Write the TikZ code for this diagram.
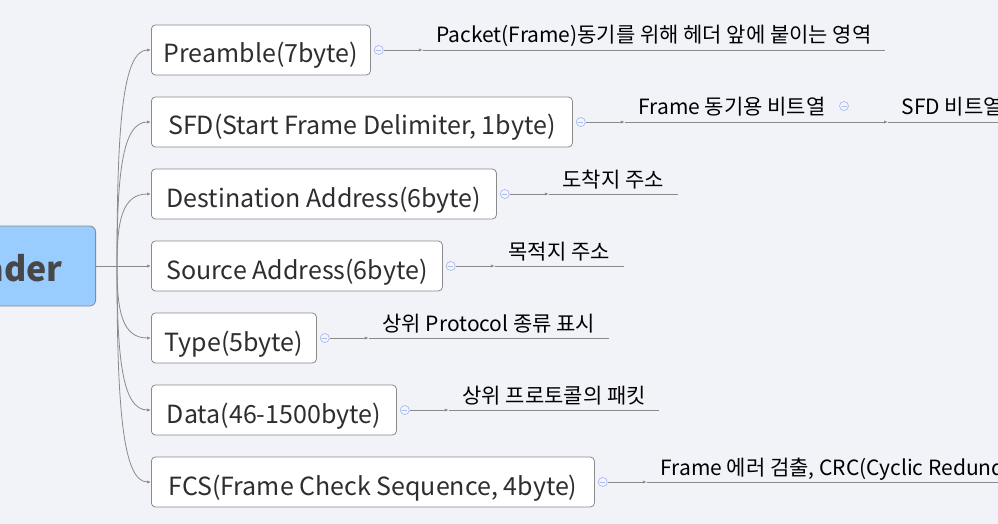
\documentclass[tikz,border=0pt]{standalone}
\usepackage{fontspec}
\setmainfont{Noto Sans CJK KR}
\usetikzlibrary{arrows.meta,calc}
\definecolor{bg}{HTML}{F2F3F8}
\definecolor{rootblue}{HTML}{99CCFF}
\definecolor{linegray}{HTML}{8A8A8A}
\definecolor{boxtext}{HTML}{2E2E2E}
\definecolor{roottext}{HTML}{474747}
\definecolor{togblue}{HTML}{AABBEE}
\definecolor{togfill}{HTML}{F4F6FD}
\tikzset{
  conn/.style={draw=linegray, line width=0.8pt},
  tipa/.style={-{Latex[length=4pt,width=3.2pt]}},
  rootbox/.style={draw=linegray, line width=0.8pt, fill=rootblue, rounded corners=6pt,
    font=\bfseries\fontsize{34}{38}\selectfont, text=roottext, inner xsep=33pt,
    text height=30pt, text depth=0pt,
    minimum height=80pt, anchor=east},
  topicbox/.style={draw=linegray, line width=0.8pt, fill=white, rounded corners=4pt,
    font=\fontsize{25}{28}\selectfont, text=boxtext, minimum height=50pt, anchor=west,
    text height=26pt, text depth=0pt, inner xsep=0pt},
  subtext/.style={font=\fontsize{21}{24}\selectfont, text=black, inner xsep=13.5pt,
    inner ysep=0pt, anchor=base west},
  toggle/.style={circle, draw=togblue, fill=togfill, line width=0.7pt, minimum size=9pt,
    inner sep=0pt, path picture={\draw[togblue, line width=0.7pt]
      ($(path picture bounding box.center)+(-2.5pt,0)$) -- ($(path picture bounding box.center)+(2.5pt,0)$);}},
}
\begin{document}
\begin{tikzpicture}[x=1pt,y=-1pt]
\useasboundingbox (0,0) rectangle (998,524);
\fill[bg] (0,0) rectangle (998,524);
\clip (0,0) rectangle (998,524);

% root
\node[rootbox] (root) at (96,266) {Header};
\coordinate (hub) at (117,266);

% topics
\node[topicbox, minimum width=219pt] (b1) at (151,50) {Preamble(7byte)};
\node[topicbox, minimum width=421pt] (b2) at (151,122) {SFD(Start Frame Delimiter, 1byte)};
\node[topicbox, minimum width=345pt] (b3) at (151,194) {Destination Address(6byte)};
\node[topicbox, minimum width=291pt] (b4) at (151,266) {Source Address(6byte)};
\node[topicbox, minimum width=165pt] (b5) at (151,338) {Type(5byte)};
\node[topicbox, minimum width=245pt] (b6) at (151,410) {Data(46-1500byte)};
\node[topicbox, minimum width=443pt] (b7) at (151,482) {FCS(Frame Check Sequence, 4byte)};

% root to topics
\draw[conn] (root.east) -- (hub);
\draw[conn,tipa] (hub) .. controls (117,130) and (122,50) .. (b1.west);
\draw[conn,tipa] (hub) .. controls (117,175) and (122,122) .. (b2.west);
\draw[conn,tipa] (hub) .. controls (117,221) and (122,194) .. (b3.west);
\draw[conn,tipa] (hub) -- (b4.west);
\draw[conn,tipa] (hub) .. controls (117,311) and (122,338) .. (b5.west);
\draw[conn,tipa] (hub) .. controls (117,357) and (122,410) .. (b6.west);
\draw[conn,tipa] (hub) .. controls (117,402) and (122,482) .. (b7.west);

% toggles and sub topics
\foreach \i in {1,...,7}{
  \node[toggle] (c\i) at ($(b\i.east)+(8,0)$) {};
  \coordinate (a\i) at ($(c\i)+(44,0)$);
  \draw[conn,tipa] (c\i) -- (a\i);
}

\node[subtext] (t1) at ($(a1)+(0,-7)$) {Packet(Frame)동기를 위해 헤더 앞에 붙이는 영역};
\draw[conn] (a1) -- (a1 -| t1.east);

\node[subtext] (t2) at ($(a2)+(0,-7)$) {Frame 동기용 비트열};
\node[toggle] (c2b) at (844,106) {};
\coordinate (a2b) at (888,122);
\draw[conn,tipa] (a2) -- (a2b);
\node[subtext] (t2b) at ($(a2b)+(0,-7)$) {SFD 비트열};
\draw[conn] (a2b) -- (1010,122);

\node[subtext] (t3) at ($(a3)+(0,-7)$) {도착지 주소};
\draw[conn] (a3) -- (a3 -| t3.east);

\node[subtext] (t4) at ($(a4)+(0,-7)$) {목적지 주소};
\draw[conn] (a4) -- (a4 -| t4.east);

\node[subtext] (t5) at ($(a5)+(0,-7)$) {상위 Protocol 종류 표시};
\draw[conn] (a5) -- (a5 -| t5.east);

\node[subtext] (t6) at ($(a6)+(0,-7)$) {상위 프로토콜의 패킷};
\draw[conn] (a6) -- (a6 -| t6.east);

\node[subtext] (t7) at ($(a7)+(0,-7)$) {Frame 에러 검출, CRC(Cyclic Redundancy Check)};
\draw[conn] (a7) -- (a7 -| t7.east);
\end{tikzpicture}
\end{document}
